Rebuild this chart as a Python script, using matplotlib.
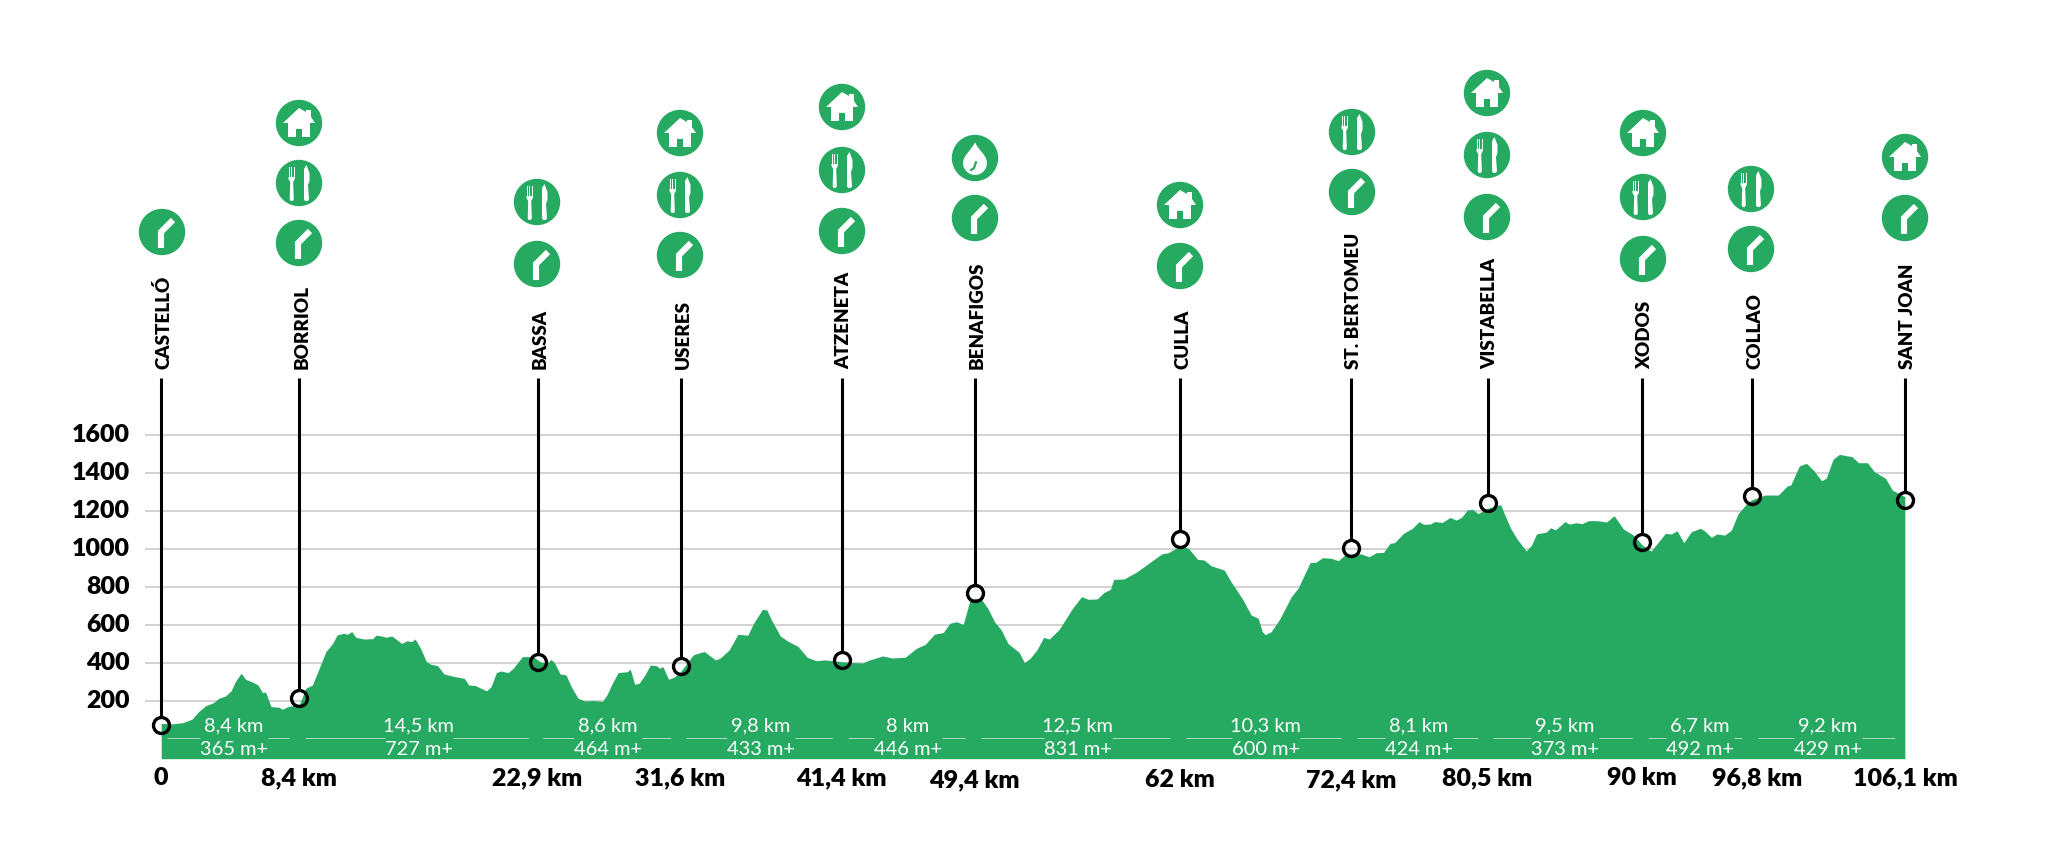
import matplotlib
matplotlib.use("Agg")
import matplotlib.pyplot as plt
from matplotlib.patches import Circle, Polygon, Rectangle, PathPatch
from matplotlib.path import Path

plt.rcParams['font.family'] = ['Lato', 'DejaVu Sans']

# elevation profile
profile_km = [0, .65, 1.33, 1.87, 2.28, 2.69, 3.18, 3.50, 3.91, 4.26, 4.51, 4.86, 5.13, 5.54, 5.89, 6.16, 6.35, 6.68,
              7.17, 7.36, 7.71, 8.42, 8.80, 9.20, 9.53, 10.02, 10.43, 10.70, 11.11, 11.32, 11.59, 11.84, 12.33, 12.87,
              13.06, 13.41, 13.68, 14.04, 14.63, 14.96, 15.23, 15.45, 15.78, 16.13, 16.40, 16.81, 17.21, 17.76, 18.44,
              18.71, 19.11, 19.79, 20.07, 20.39, 20.66, 21.10, 21.42, 21.97, 22.64, 23.05, 23.46, 23.73, 23.95, 24.27,
              24.63, 24.95, 25.36, 25.77, 26.31, 26.85, 27.12, 27.45, 27.80, 28.35, 28.54, 28.81, 29.08, 29.43, 29.76,
              30.11, 30.33, 30.52, 30.87, 31.20, 31.60,
              32.37, 32.65, 33.05, 33.32, 33.73, 34.00, 34.55, 35.09, 35.69, 36.04, 36.58, 36.85, 37.13, 37.67, 38.08,
              38.76, 39.30, 39.84, 40.38, 41.39, 42.01, 42.69, 43.10, 43.91, 44.46, 45.27, 45.95, 46.49, 47.04, 47.58,
              47.99, 48.39, 48.80, 49.21, 49.51, 49.89, 50.29, 50.70, 51.11, 51.52, 52.20, 52.52, 52.87, 53.28, 53.69,
              54.04, 54.64, 55.45, 56.00, 56.40, 56.95, 57.35, 57.76, 57.95, 58.58, 59.39, 60.07, 60.88, 61.29, 62.00,
              62.51, 63.06, 63.46, 63.87, 64.68, 65.09, 65.50, 65.83, 66.31, 66.75, 66.99, 67.18, 67.54, 68.08, 68.76,
              69.17, 69.90, 70.25, 70.66, 71.20, 71.61, 72.02, 72.45,
              73.00, 73.49, 73.95, 74.36, 74.77, 75.04, 75.58, 76.13, 76.53, 76.81, 77.21, 77.48, 77.95, 78.43, 78.79,
              79.11, 79.47, 79.79, 80.12, 80.69, 81.15, 81.50, 81.75, 82.10, 82.51, 82.78, 83.05, 83.38, 83.68, 84.27,
              84.54, 84.82, 85.41, 85.68, 86.09, 86.44, 86.85, 87.39, 87.94, 88.40, 88.97, 89.57, 90.11, 90.65, 91.06,
              91.52, 91.88, 92.23, 92.64, 93.10, 93.64, 93.91, 94.32, 94.65, 95.13, 95.54, 95.95, 96.49, 96.76, 97.58,
              98.39, 98.93, 99.15, 99.67, 100.10, 100.56, 101.02, 101.30, 101.73, 102.11, 102.87, 103.28, 103.82,
              104.23, 104.91, 105.33, 106.09]
profile_m = [82, 79, 86, 104, 144, 174, 191, 214, 226, 254, 302, 346, 314, 300, 284, 244, 247, 170,
             167, 156, 170, 184, 267, 284, 354, 460, 503, 547, 556, 551, 565, 535, 526, 528,
             546, 542, 535, 542, 503, 517, 512, 526, 477, 407, 393, 386, 342, 330, 319,
             284, 281, 253, 275, 349, 358, 349, 372, 433, 433, 407, 398, 419, 398, 342,
             337, 275, 214, 200, 202, 198, 232, 293, 349, 354, 367, 288, 293, 337, 389,
             386, 372, 381, 314, 325, 354,
             442, 451, 460, 442, 416, 425, 468, 551, 546, 609, 682, 679, 626, 542, 517,
             486, 430, 412, 416, 407, 402, 400, 416, 437, 426, 430, 477, 498, 551, 560,
             609, 617, 603, 731, 740, 737, 688, 617, 574, 503, 456, 402, 425, 468, 535,
             526, 577, 688, 749, 735, 737, 770, 788, 840, 842, 881, 924, 974, 981, 1017,
             1003, 945, 942, 912, 889, 828, 775, 731, 653, 635, 565, 549, 565, 635, 749,
             793, 928, 930, 954, 951, 938, 968, 974,
             974, 959, 981, 981, 1030, 1033, 1082, 1109, 1144, 1130, 1131, 1144, 1140, 1166, 1152,
             1166, 1205, 1209, 1186, 1214, 1226, 1233, 1179, 1109, 1051, 1021, 989, 1021, 1079, 1089,
             1112, 1100, 1144, 1131, 1138, 1133, 1149, 1149, 1142, 1175, 1105, 1073, 1021, 989, 1033,
             1082, 1079, 1096, 1033, 1091, 1109, 1095, 1061, 1079, 1073, 1100, 1187, 1240, 1258, 1284,
             1284, 1331, 1337, 1437, 1451, 1412, 1359, 1372, 1473, 1498, 1486, 1454, 1454,
             1407, 1372, 1310, 1275]

stop_names = ['CASTELLÓ', 'BORRIOL', 'BASSA', 'USERES', 'ATZENETA', 'BENAFIGOS', 'CULLA', 'ST. BERTOMEU',
              'VISTABELLA', 'XODOS', 'COLLAO', 'SANT JOAN']
stop_km = [0, 8.4, 22.9, 31.6, 41.4, 49.5, 62, 72.4, 80.7, 90.1, 96.8, 106.1]
stop_m = [74, 214, 407, 386, 416, 770, 1052, 1003, 1244, 1038, 1279, 1258]
stop_labels = ['0', '8,4 km', '22,9 km', '31,6 km', '41,4 km', '49,4 km', '62 km', '72,4 km', '80,5 km', '90 km',
               '96,8 km', '106,1 km']
stop_icons = [['road'], ['house', 'food', 'road'], ['food', 'road'], ['house', 'food', 'road'],
              ['house', 'food', 'road'], ['drop', 'road'], ['house', 'road'], ['food', 'road'],
              ['house', 'food', 'road'], ['house', 'food', 'road'], ['food', 'road'], ['house', 'road']]

segment_km = ['8,4 km', '14,5 km', '8,6 km', '9,8 km', '8 km', '12,5 km', '10,3 km', '8,1 km', '9,5 km', '6,7 km', '9,2 km']
segment_gain = ['365 m+', '727 m+', '464 m+', '433 m+', '446 m+', '831 m+', '600 m+', '424 m+', '373 m+', '492 m+', '429 m+']
segment_mid = [4.43, 15.68, 27.18, 36.49, 45.42, 55.77, 67.2, 76.5, 85.4, 93.6, 101.4]

y_ticks = [200, 400, 600, 800, 1000, 1200, 1400, 1600]

GREEN = '#26AA62'
W, H = 2048, 861

fig = plt.figure(figsize=(W / 100, H / 100), dpi=100, facecolor='white')

# main axes, placed so km and metres land on the reference's pixels
left, right, top, base = 161.2, 1905, 435, 758.7
ax = fig.add_axes([left / W, 1 - base / H, (right - left) / W, (base - top) / H])
ax.set_xlim(0, 106.1)
ax.set_ylim(-104, 1600)
ax.axis('off')

ax.hlines(y_ticks, -1, 106.1, color='#d2d2d2', lw=1.4, clip_on=False, zorder=1)
ax.fill_between(profile_km, profile_m, -104, color=GREEN, lw=0, zorder=2)

for y in y_ticks:
    ax.text(-1.9, y, str(y), ha='right', va='center', fontsize=18, fontweight='heavy', color='black', clip_on=False)

# stop lines, rings and labels
for km, m, name in zip(stop_km, stop_m, stop_names):
    ax.vlines(km, m + 42, 1900, color='black', lw=2.2, clip_on=False, zorder=3)
    ax.text(km + .15, 1945, name, rotation=90, ha='center', va='bottom', fontsize=13.5, fontweight='heavy', clip_on=False)
ax.plot(stop_km, stop_m, 'o', mfc='none', mec='black', ms=11.5, mew=2.4, clip_on=False, zorder=4)

x_label_km = [0, 8.4, 22.9, 31.6, 41.4, 49.5, 62, 72.4, 80.7, 90.1, 97.1, 106.1]
x_label_drop = [0, 0, 0, 0, 0, 2, 2, 2, 0, 0, 0, 0]
for km, lab, d in zip(x_label_km, stop_labels, x_label_drop):
    ax.text(km, -205 - d / 0.19, lab, ha='center', va='center', fontsize=18, fontweight='heavy', clip_on=False)

# white segment texts with the divider split around them
gap = 34 / 16.44
starts = stop_km[:-1]
ends = stop_km[1:]
for s, e, mid, a, b in zip(starts, ends, segment_mid, segment_km, segment_gain):
    ax.hlines([5, 5], [s + .36, mid + gap], [mid - gap, e - .6], color='white', lw=0.6, alpha=.7, zorder=3)
    ax.text(mid, 68, a, ha='center', va='center', color='white', fontsize=14.4, zorder=3)
    ax.text(mid, -58, b, ha='center', va='center', color='white', fontsize=14.4, zorder=3)

# icons go on an overlay in pixel units
ov = fig.add_axes([0, 0, 1, 1])
ov.set_xlim(0, W)
ov.set_ylim(H, 0)
ov.axis('off')
ov.patch.set_alpha(0)

def road(cx, cy):
    ov.plot([cx - 1, cx - 1, cx + 11], [cy + 16, cy, cy - 12], color='white', lw=4.4,
            solid_capstyle='butt', solid_joinstyle='miter')

def food(cx, cy):
    # fork
    for dx in (-10.5, -8, -5.5):
        ov.add_patch(Rectangle((cx + dx, cy - 16), 1.3, 11, color='white', lw=0))
    ov.add_patch(Polygon([(cx - 10.5, cy - 6), (cx - 4.2, cy - 6), (cx - 4.2, cy - 4), (cx - 5.8, cy - 1), (cx - 5.2, cy + 16),
                          (cx - 6, cy + 18), (cx - 8.5, cy + 18), (cx - 9.3, cy + 16), (cx - 8.8, cy - 1), (cx - 10.5, cy - 4)],
                         color='white', lw=0))
    # knife
    ov.add_patch(Polygon([(cx + 5, cy - 14), (cx + 7.5, cy - 18), (cx + 10.5, cy - 10), (cx + 10.5, cy - 2), (cx + 9, cy + 2),
                          (cx + 10, cy + 16), (cx + 9, cy + 18), (cx + 6, cy + 18), (cx + 5, cy + 16)],
                         color='white', lw=0))

def house(cx, cy):
    ov.add_patch(Polygon([(cx, cy - 15), (cx + 7, cy - 11), (cx + 7, cy - 13), (cx + 12, cy - 13), (cx + 12, cy - 6),
                          (cx + 16, cy), (cx + 11, cy), (cx + 11, cy + 14), (cx + 3, cy + 14), (cx + 3, cy + 6),
                          (cx - 3, cy + 6), (cx - 3, cy + 14), (cx - 11, cy + 14), (cx - 11, cy), (cx - 16, cy)],
                         color='white', lw=0))

def drop(cx, cy):
    verts = [(cx, cy - 16), (cx - 3, cy - 8), (cx - 12, cy - 3), (cx - 12, cy + 5), (cx - 12, cy + 12), (cx - 6, cy + 17),
             (cx, cy + 17), (cx + 6, cy + 17), (cx + 12, cy + 12), (cx + 12, cy + 5), (cx + 12, cy - 3), (cx + 3, cy - 8),
             (cx, cy - 16)]
    codes = [Path.MOVETO] + [Path.CURVE4] * 12
    ov.add_patch(PathPatch(Path(verts, codes), facecolor='white', edgecolor='none', lw=0))
    ov.plot([cx - 4, cx - 1, cx + 1], [cy + 12, cy + 10, cy + 4], color=GREEN, lw=1.6, solid_capstyle='round')

draw = {'road': road, 'food': food, 'house': house, 'drop': drop}
icon_x = [162, 299, 537, 680, 842, 975, 1180, 1352, 1487, 1643, 1751, 1905]
icon_rows = [[232], [123, 183, 243], [202, 264], [133, 195, 255], [107, 170, 231], [158, 218], [205, 266], [132, 192],
             [93, 155, 217], [133, 197, 259], [189, 249], [157, 218]]
for x, names, rows in zip(icon_x, stop_icons, icon_rows):
    for kind, y in zip(names, rows):
        ov.add_patch(Circle((x, y), 23.2, color=GREEN, lw=0))
        draw[kind](x, y)

fig.savefig('out.png', dpi=100, facecolor='white')
